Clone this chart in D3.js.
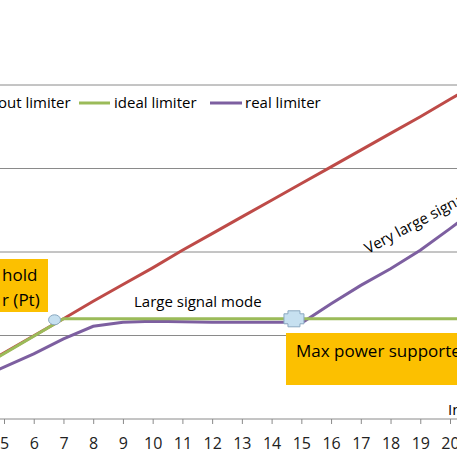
<!DOCTYPE html><html><head><script src="https://cdn.jsdelivr.net/npm/d3@7"></script>
<style>body{margin:0;background:#fff}text{font-family:"Open Sans",sans-serif}</style></head><body><svg id="c" width="457" height="457"></svg>
<script>
const xTicks=[5,6,7,8,9,10,11,12,13,14,15,16,17,18,19,20,21];
const gridLevels=[10,20,30,40];
const redX=[4.8,7,8,9,10,11,12,13,14,15,16,17,18,19,20,21];
const redY=[7.5,12,14.1,16.1,18.1,20.2,22.2,24.2,26.2,28.2,30.2,32.2,34.2,36.2,38.3,40.3];
const greenX=[4.8,7,21];
const greenY=[7.4,12,12];
const purpleX=[4.8,6,7,8,9,10,12,14,14.7,15.1,16,17,18,19,20,21];
const purpleY=[5.9,7.8,9.6,11.1,11.6,11.7,11.6,11.6,11.6,11.7,13.8,16,18,20.2,22.8,25.5];
const svg=d3.select("#c");
const x=d3.scaleLinear().domain([5,20]).range([4,450]);
const y=d3.scaleLinear().domain([0,40]).range([419,85]);
svg.append("g").selectAll("line").data(gridLevels).join("line").attr("x1",0).attr("x2",457).attr("y1",d=>y(d)).attr("y2",d=>y(d)).attr("stroke","#8a8a8a").attr("stroke-width",1);
const ax=svg.append("g").attr("transform",`translate(0,${y(0)})`).call(d3.axisBottom(x).tickValues(xTicks).tickSize(5).tickSizeOuter(0).tickFormat(d3.format("d")));
ax.select(".domain").attr("stroke","#8a8a8a").attr("d","M0,0H457");
ax.selectAll(".tick line").attr("stroke","#8a8a8a");
ax.selectAll("text").attr("dy",22).attr("font-size",16).attr("fill","#222").attr("font-family","Liberation Serif, serif");
const line=d3.line().x(d=>x(d[0])).y(d=>y(d[1]));
function draw(xs,ys,c){svg.append("path").datum(xs.map((v,i)=>[v,ys[i]])).attr("d",line).attr("fill","none").attr("stroke",c).attr("stroke-width",3);}
draw(redX,redY,"#be4b48");draw(purpleX,purpleY,"#7d5fa0");draw(greenX,greenY,"#9bbb59");
svg.append("ellipse").attr("cx",x(6.7)).attr("cy",y(12)+1).attr("rx",6).attr("ry",5).attr("fill","#c6e0f0").attr("stroke","#8aa8c0");
svg.append("path").attr("d",`M${x(14.55)},${y(12)-8}h12v3h4v10h-4v3h-12v-3h-4v-10h4z`).attr("fill","#c6e0f0").attr("stroke","#8aa8c0");
const lg=svg.append("g").attr("font-size",15);
lg.append("text").attr("x",-2).attr("y",108).text("out limiter");
lg.append("line").attr("x1",79).attr("x2",110).attr("y1",103).attr("y2",103).attr("stroke","#9bbb59").attr("stroke-width",3);
lg.append("text").attr("x",114).attr("y",108).text("ideal limiter");
lg.append("line").attr("x1",210).attr("x2",242).attr("y1",103).attr("y2",103).attr("stroke","#7d5fa0").attr("stroke-width",3);
lg.append("text").attr("x",245).attr("y",108).text("real limiter");
svg.append("rect").attr("x",0).attr("y",259).attr("width",48).attr("height",53).attr("fill","#fcc000");
svg.append("text").attr("x",2).attr("y",281).attr("font-size",17).text("hold");
svg.append("text").attr("x",2).attr("y",306).attr("font-size",17).text("r (Pt)");
svg.append("rect").attr("x",286).attr("y",333).attr("width",171).attr("height",52).attr("fill","#fcc000");
svg.append("text").attr("x",296).attr("y",357).attr("font-size",17).text("Max power supported");
svg.append("text").attr("x",134).attr("y",307).attr("font-size",15).text("Large signal mode");
svg.append("text").attr("transform","translate(-118,399) rotate(-30)").attr("font-size",15).text("Small signal mode");
svg.append("text").attr("transform","translate(368,254) rotate(-28)").attr("font-size",15).text("Very large signal mode");
svg.append("text").attr("x",448).attr("y",415).attr("font-size",15).text("Input");
</script></body></html>
